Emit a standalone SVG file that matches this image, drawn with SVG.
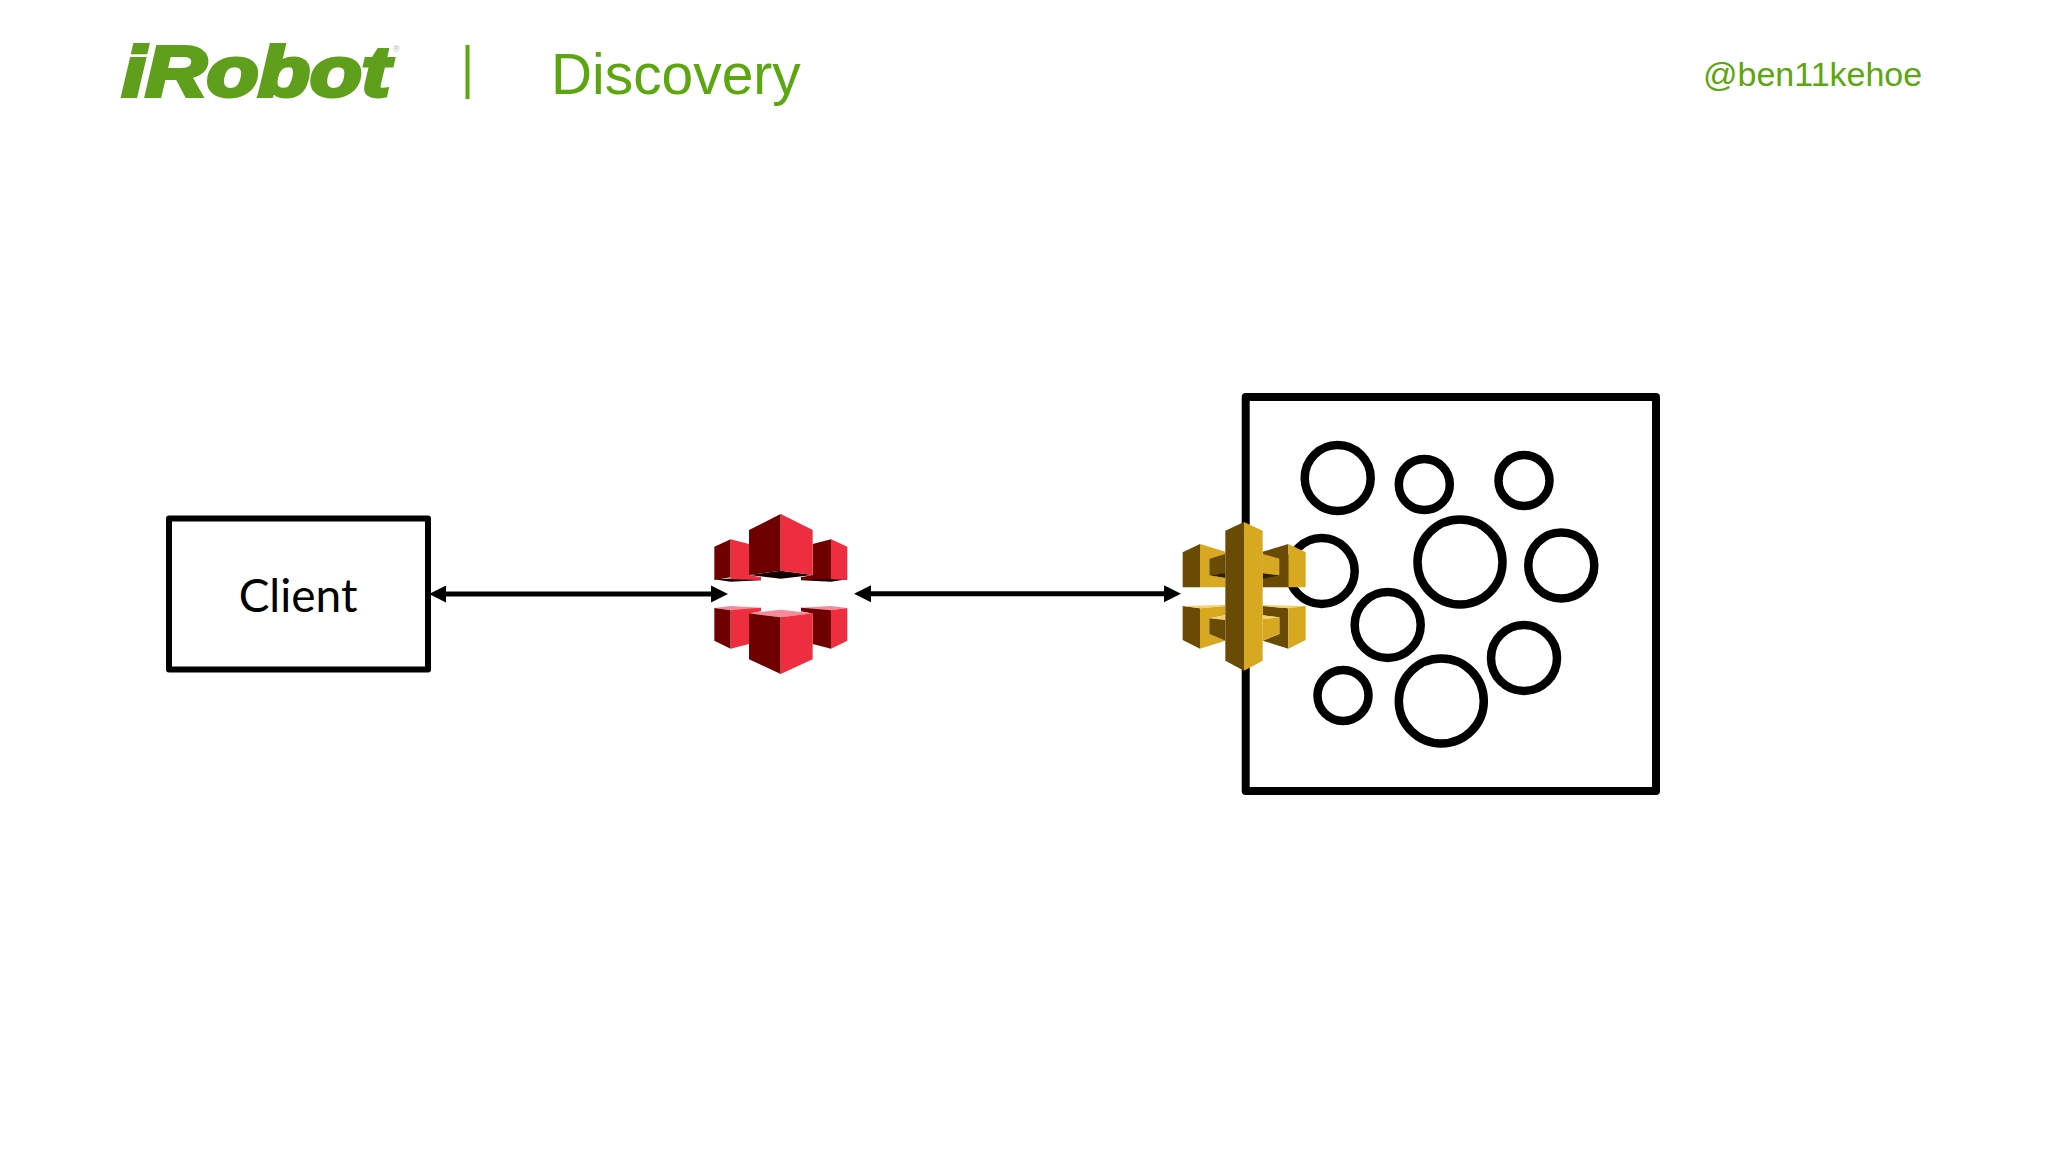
<svg xmlns="http://www.w3.org/2000/svg" width="2048" height="1152" viewBox="0 0 2048 1152">
<style>
.grn{fill:#5ca60f;font-family:"Liberation Sans",Arial,sans-serif}
.bx{fill:none;stroke:#000;stroke-linejoin:round}
.c{fill:none;stroke:#000;stroke-width:8.500}
.con{stroke:#000;stroke-width:5;fill:none}
.rd{fill:#6f0000}.rl{fill:#ee2d3e}.rk{fill:#120000}.rp{fill:#f58a9a}
.gd{fill:#6a4b05}.gl{fill:#d7a820}.gk{fill:#2e2000}.gp{fill:#f4d06a}
</style>
<defs>
<marker id="ah" viewBox="0 -9 18 18" refX="1" refY="0" markerWidth="18" markerHeight="18" markerUnits="userSpaceOnUse" orient="auto-start-reverse"><path d="M0,-8.500L17,0L0,8.500z" fill="#000"/></marker>
</defs>
<rect width="2048" height="1152" fill="#fff"/>
<g id="header">
<text x="122" y="96" font-family="'Liberation Sans',Arial,sans-serif" font-weight="700" font-style="italic" font-size="71" fill="#5f9f1c" stroke="#5f9f1c" stroke-width="4" textLength="268" lengthAdjust="spacingAndGlyphs">iRobot</text>
<text x="393" y="52" font-family="'Liberation Sans',Arial,sans-serif" font-size="9" fill="#b5b5b5">®</text>
<line x1="467.500" y1="45" x2="467.500" y2="99" stroke="#5ca60f" stroke-width="4"/>
<text class="grn" x="551" y="94" font-size="56.900">Discovery</text>
<text class="grn" x="1703" y="86" font-size="34">@ben11kehoe</text>
</g>
<g id="client">
<rect class="bx" x="169" y="518.500" width="259" height="151" stroke-width="6"/>
<text x="298" y="612" text-anchor="middle" font-family="Lato,'Liberation Sans',sans-serif" font-size="46" fill="#000">Client</text>
</g>
<g id="service-box">
<rect class="bx" x="1245.700" y="397" width="410.300" height="394" stroke-width="8"/>
<circle class="c" cx="1337.700" cy="478" r="33"/>
<circle class="c" cx="1424.300" cy="484.500" r="25.500"/>
<circle class="c" cx="1524" cy="480.500" r="25.500"/>
<circle class="c" cx="1321.700" cy="571" r="33"/>
<circle class="c" cx="1460" cy="562" r="42.500"/>
<circle class="c" cx="1561.300" cy="565.500" r="33"/>
<circle class="c" cx="1387.700" cy="625" r="33"/>
<circle class="c" cx="1524" cy="658" r="33"/>
<circle class="c" cx="1343" cy="695.500" r="25.500"/>
<circle class="c" cx="1441.300" cy="701" r="42.500"/>
</g>
<g id="connectors">
<line class="con" x1="445" y1="594" x2="712" y2="594" marker-start="url(#ah)" marker-end="url(#ah)"/>
<line class="con" x1="870" y1="593.700" x2="1165" y2="593.700" marker-start="url(#ah)" marker-end="url(#ah)"/>
</g>
<g id="cognito-icon" transform="translate(690 500) scale(.33333)">
<polygon class="rk" points="73,238 213,232 213,241 122,245"/>
<polygon class="rk" points="333,232 472,238 423,245 333,241"/>
<polygon class="rd" points="73,140 122,118 122,232 73,240"/>
<polygon class="rl" points="122,118 177,132 177,225 213,232 213,240 122,238"/>
<polygon class="rd" points="368,132 423,118 423,238 333,240 333,232 368,225"/>
<polygon class="rl" points="423,118 472,140 472,240 423,238"/>
<polygon class="rk" points="177,225 272,212 368,225 272,236"/>
<polygon class="rd" points="272,42 177,90 177,225 272,212"/>
<polygon class="rl" points="272,42 368,90 368,225 272,212"/>
<polygon class="rp" points="73,324 122,318 213,323 177,337 122,331"/>
<polygon class="rp" points="333,323 423,318 472,324 423,331 368,337"/>
<polygon class="rd" points="73,324 122,331 122,446 73,422"/>
<polygon class="rl" points="122,331 213,323 213,334 177,341 177,432 122,446"/>
<polygon class="rd" points="333,323 423,331 423,446 368,432 368,341 333,334"/>
<polygon class="rl" points="423,331 472,324 472,422 423,446"/>
<polygon class="rp" points="177,340 272,329 368,340 272,352"/>
<polygon class="rd" points="177,340 272,352 272,522 177,478"/>
<polygon class="rl" points="272,352 368,340 368,478 272,522"/>
</g>
<g id="gateway-icon" transform="translate(1160 510) scale(.33333)">
<polygon class="gd" points="68,127 120,102 120,232 68,232"/>
<polygon class="gl" points="120,102 196,125 196,135 148,146 148,196 196,204 196,232 120,232"/>
<polygon class="gd" points="148,146 196,132 196,192 148,196"/>
<polygon class="gk" points="148,196 196,190 196,204"/>
<polygon class="gd" points="308,125 385,102 385,232 308,232"/>
<polygon class="gk" points="308,190 358,196 308,206"/>
<polygon class="gl" points="308,132 358,146 358,196 308,190"/>
<polygon class="gl" points="385,102 437,127 437,232 385,232"/>
<polygon class="gd" points="68,288 120,295 120,416 68,390"/>
<polygon class="gl" points="120,295 196,288 196,316 148,325 148,372 196,392 120,416"/>
<polygon class="gp" points="68,288 196,285 196,288 120,295"/>
<polygon class="gp" points="148,325 196,316 196,330"/>
<polygon class="gd" points="148,325 196,330 196,392 148,372"/>
<polygon class="gd" points="308,288 385,295 385,416 308,392 358,372 358,322 308,316"/>
<polygon class="gp" points="308,285 437,288 385,295 308,288"/>
<polygon class="gp" points="308,316 358,322 308,328"/>
<polygon class="gl" points="308,328 358,322 358,372 308,392"/>
<polygon class="gl" points="385,295 437,288 437,390 385,416"/>
<polygon class="gd" points="252,36 196,62 196,452 252,482"/>
<polygon class="gl" points="252,36 308,62 308,452 252,482"/>
</g>
</svg>
